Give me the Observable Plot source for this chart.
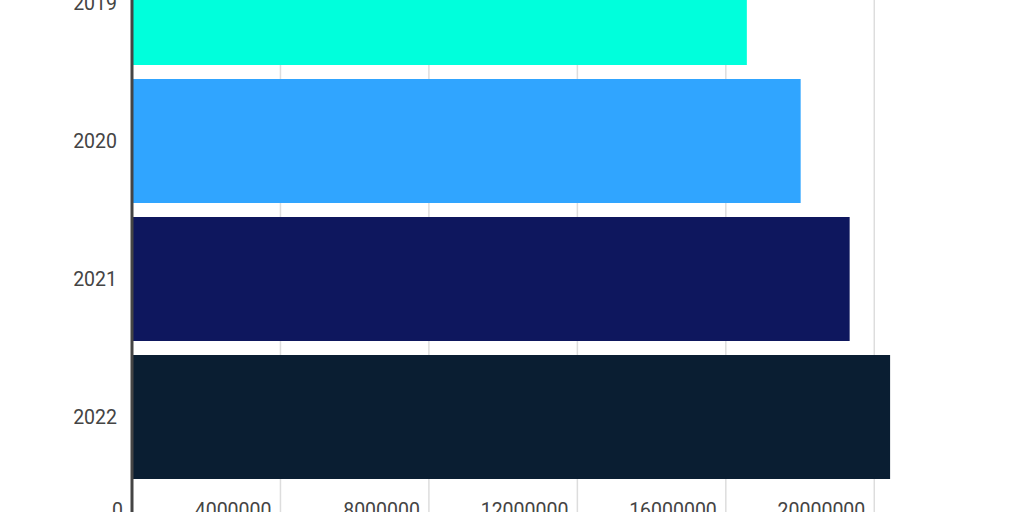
<!DOCTYPE html>
<html><head>
<meta charset="utf-8">
<script src="https://cdn.jsdelivr.net/npm/d3@7"></script>
<script src="https://cdn.jsdelivr.net/npm/@observablehq/plot@0.6"></script>
<style>
html,body{margin:0;padding:0;background:#fff;overflow:hidden;width:1024px;height:512px}
#chart svg{display:block;margin-top:-80px}
</style></head><body><div id="chart"></div>
<script>
const years = ["2019", "2020", "2021", "2022"];
const values = [16580000, 18030000, 19350000, 20440000];
const colors = ["#00ffdc", "#30a5ff", "#0e175e", "#0a1e32"];
const xTicks = [0, 4000000, 8000000, 12000000, 16000000, 20000000];

const data = years.map((y, i) => ({year: y, value: values[i], color: colors[i]}));

const plot = Plot.plot({
  width: 1024,
  height: 600,
  marginTop: 7,
  marginBottom: 27,
  marginLeft: 131.5,
  marginRight: 76,
  style: {fontFamily: "Roboto", fontSize: "19.5px", color: "#444", background: "#fff"},
  x: {domain: [0, 22000000], label: null},
  y: {domain: years, padding: 0.1, label: null},
  marks: [
    Plot.ruleX(xTicks.slice(1), {stroke: "#dddddd", strokeWidth: 1.5, insetBottom: -40, insetTop: -20}),
    Plot.barX(data, {y: "year", x: "value", fill: "color"}),
    Plot.ruleX([0], {stroke: "#444", strokeWidth: 3, insetBottom: -40, insetTop: -20}),
    Plot.axisY({tickSize: 0, tickPadding: 15, fill: "#444", label: null}),
    Plot.axisX(xTicks, {tickSize: 0, tickPadding: 10, textAnchor: "end", dx: -9, fill: "#444",
      tickFormat: d3.format("d"), label: null})
  ]
});
document.getElementById("chart").appendChild(plot);
</script>
</body></html>
